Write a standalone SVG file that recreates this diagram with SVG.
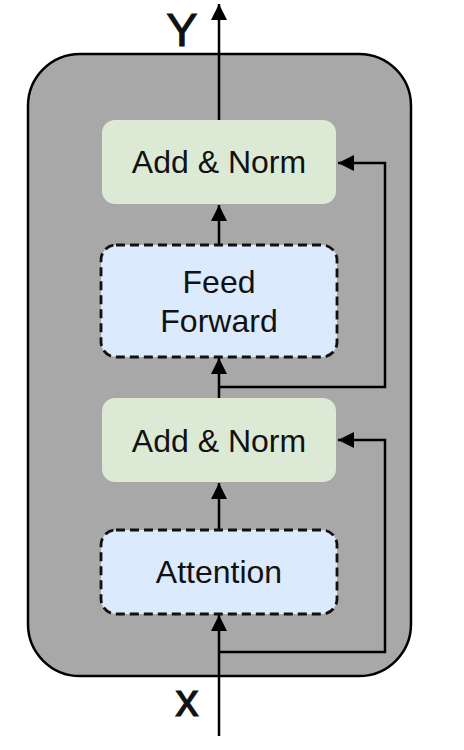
<svg xmlns="http://www.w3.org/2000/svg" width="464" height="750" viewBox="0 0 464 750">
<style>
.lbl{font-family:"Liberation Sans",Arial,sans-serif;font-size:32px;fill:#111;text-anchor:middle}
.io{font-family:"Liberation Sans",Arial,sans-serif;font-size:47px;fill:#111;stroke:#111;stroke-width:1;text-anchor:middle}
.norm{fill:#dbe9d5}
.sub{fill:#dbeafc;stroke:#111;stroke-width:2.8;stroke-dasharray:9 5}
.wire{fill:none;stroke:#000;stroke-width:2.5}
</style>
<defs>
<marker id="ah" markerUnits="userSpaceOnUse" markerWidth="16" markerHeight="16" viewBox="0 0 16 16" refX="16" refY="8" orient="auto">
<path d="M0,0 L16,8 L0,16 z" fill="#000"/>
</marker>
</defs>
<g id="block">
<rect x="28" y="54" width="383" height="622" rx="52" ry="52" fill="#a8a8a8" stroke="#000" stroke-width="2.5"/>
</g>
<g id="connectors">
<path class="wire" d="M219,120 L219,4" marker-end="url(#ah)"/>
<path class="wire" d="M219,245 L219,205" marker-end="url(#ah)"/>
<path class="wire" d="M219,398 L219,358" marker-end="url(#ah)"/>
<path class="wire" d="M219,387 L385,387 L385,163 L338,163" marker-end="url(#ah)"/>
<path class="wire" d="M219,530 L219,483" marker-end="url(#ah)"/>
<path class="wire" d="M219,736 L219,615" marker-end="url(#ah)"/>
<path class="wire" d="M219,652 L385,652 L385,440 L338,440" marker-end="url(#ah)"/>
</g>
<g id="addnorm2">
<rect class="norm" x="102" y="120" width="234" height="84" rx="13"/>
<text class="lbl" x="219" y="173">Add &amp; Norm</text>
</g>
<g id="feedforward">
<rect class="sub" x="101" y="245" width="236" height="112" rx="15"/>
<text class="lbl" x="219" y="293">Feed</text>
<text class="lbl" x="219" y="332">Forward</text>
</g>
<g id="addnorm1">
<rect class="norm" x="102" y="398" width="234" height="84" rx="13"/>
<text class="lbl" x="219" y="452">Add &amp; Norm</text>
</g>
<g id="attention">
<rect class="sub" x="101" y="530" width="236" height="84" rx="15"/>
<text class="lbl" x="219" y="583">Attention</text>
</g>
<g id="labels">
<text class="io" x="182" y="46">Y</text>
<text class="io" x="187" y="716">x</text>
</g>
</svg>
